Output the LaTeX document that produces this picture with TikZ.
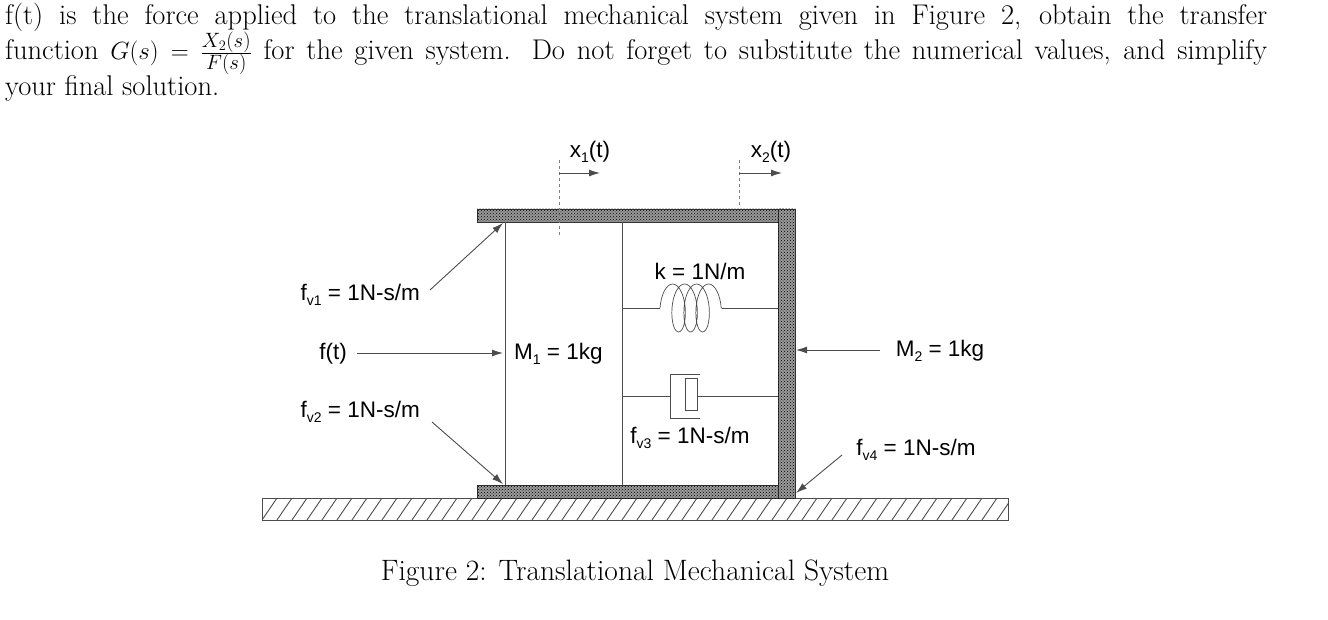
\documentclass[tikz,border=0pt]{standalone}
\usepackage{fontspec}
\newfontfamily\arial{Liberation Sans}
\usetikzlibrary{patterns,decorations.pathmorphing,arrows.meta}
\newcommand{\sbs}[1]{\raisebox{-5pt}{\fontsize{14}{14}\selectfont #1}}
\begin{document}
\begin{tikzpicture}[x=1pt,y=-1pt,
  thin/.style={draw=black!70,line width=0.9pt},
  arr/.style={thin,-{Latex[length=11pt,width=7pt]}},
  lbl/.style={font=\arial\fontsize{22.5}{24}\selectfont,inner sep=0pt},
  bar/.style={draw=black!80,line width=0.8pt,fill=black!40,postaction={pattern=crosshatch dots,pattern color=black}}]
\useasboundingbox (0,0) rectangle (1328,620);
\node[anchor=north west,text width=1262pt,align=justify,inner sep=0pt,font=\fontsize{28.5}{35}\selectfont] (para) at (5,3)
 {f(t) is the force applied to the translational mechanical system given in Figure 2, obtain the transfer\linebreak function $G(s)=\frac{X_2(s)}{F(s)}$ for the given system. Do not forget to substitute the numerical values, and simplify\linebreak your final solution.\par};
% ground
\draw[thin] (262,498) rectangle (1008,520);
\begin{scope}
\clip (262,498) rectangle (1008,520);
\foreach \i in {0,...,50} \draw[thin] ({262+\i*15},520)--({262+\i*15+15},498);
\end{scope}
% bars
\draw[bar] (477,209) rectangle (795,222);
\draw[bar] (477,485) rectangle (795,498);
\draw[bar] (778,209) rectangle (795,498);
% inner lines
\draw[thin] (505,222)--(505,485);
\draw[thin] (622,222)--(622,485);
% spring
\coordinate (sa) at (622,308); \coordinate (sb) at (778,308);
\draw[thin] (sa)--(660,308);
\draw[thin] (722,308)--(sb);
\draw[thin,line width=0.7pt,decorate,decoration={coil,segment length=12pt,amplitude=24pt,aspect=0.4}] (660,308)--(722,308);
% damper
\draw[thin] (622,396)--(670,396);
\draw[thin] (700,374)--(670,374)--(670,418)--(700,418);
\draw[thin] (685,378) rectangle (697,410);
\draw[thin] (697,396)--(778,396);
% displacements
\draw[thin,dashed,draw=black!50] (559,160)--(559,235);
\draw[arr] (559,173)--(600,173);
\node[lbl] (x1) at (590,152) {x\sbs{1}(t)};
\draw[thin,dashed,draw=black!50] (739,160)--(739,207);
\draw[arr] (739,173)--(782,173);
\node[lbl] (x2) at (771,152) {x\sbs{2}(t)};
% left labels
\node[lbl,anchor=east] (fv1) at (420,295) {f\sbs{v1} = 1N-s/m};
\draw[arr] (430,290)--(503,223);
\node[lbl,anchor=east] (ft) at (347,354) {f(t)};
\draw[arr] (357,353)--(503,353);
\node[lbl,anchor=east] (fv2) at (420,412) {f\sbs{v2} = 1N-s/m};
\draw[arr] (432,422)--(503,484);
\node[lbl,anchor=west] (m1) at (514,354) {M\sbs{1} = 1kg};
\node[lbl] (k) at (700,271) {k = 1N/m};
\node[lbl] (fv3) at (690,438) {f\sbs{v3} = 1N-s/m};
\node[lbl] (m2) at (940,351) {M\sbs{2} = 1kg};
\draw[arr] (880,350)--(796,350);
\node[lbl] (fv4) at (916,450) {f\sbs{v4} = 1N-s/m};
\draw[arr] (842,455)--(796,493);
\node[font=\fontsize{29.5}{32}\selectfont] (cap) at (635,573) {Figure 2: Translational Mechanical System};
\end{tikzpicture}
\end{document}
